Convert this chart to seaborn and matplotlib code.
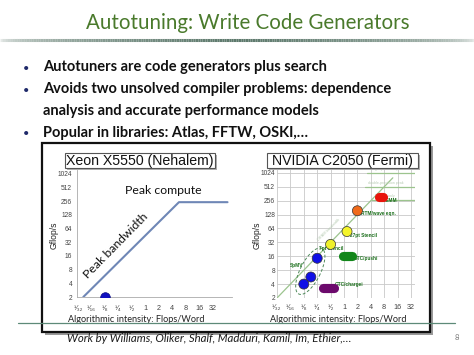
import numpy as np
import pandas as pd
import matplotlib
matplotlib.use("Agg")
import matplotlib.pyplot as plt
import seaborn as sns
from matplotlib.patches import Rectangle
from matplotlib.collections import LineCollection

# ---------------- data ----------------
slide_title = "Autotuning: Write Code Generators"
bullets = ["Autotuners are code generators plus search",
           "Avoids two unsolved compiler problems: dependence\nanalysis and accurate performance models",
           "Popular in libraries: Atlas, FFTW, OSKI,\u2026"]
footer = "Work by Williams, Oliker, Shalf, Madduri, Kamil, Im, Ethier,\u2026"
page_no = "8"

xtick_vals = [2.0 ** k for k in range(-5, 6)]
xtick_labels = ["\u00b9\u2044\u2083\u2082", "\u00b9\u2044\u2081\u2086", "\u00b9\u2044\u2088",
                "\u00b9\u2044\u2084", "\u00b9\u2044\u2082", "1", "2", "4", "8", "16", "32"]
ytick_vals = [2, 4, 8, 16, 32, 64, 128, 256, 512, 1024]
ytick_labels = [str(v) for v in ytick_vals]
xlabel = "Algorithmic intensity: Flops/Word"
ylabel = "Gflop/s"

# left panel (Nehalem)
left_title = "Xeon X5550 (Nehalem)"
left_roof_x = [0.041, 5.6, 68.0]
left_roof_y = [2.0, 245.0, 245.0]
left_point_x = [0.125]
left_point_y = [2.0]

# right panel (Fermi)
right_title = "NVIDIA C2050 (Fermi)"
right_bw_x = [1 / 32, 12.5]
right_bw_y = [2.0, 800.0]
ceil_names = ["single-precision peak", "double-precision peak", "DP add-only"]
ceil_y = [1030.0, 512.0, 262.0]
ceil_x0 = [3.3, 3.0, 4.3]
ceil_x1 = [40.0, 40.0, 40.0]

circle_names = ["RTM/wave eqn.", "27pt Stencil", "7pt Stencil", "SpMV a", "SpMV b", "SpMV c"]
circle_x = [2.0, 1.17, 0.5, 0.25, 0.18, 0.125]
circle_y = [155.0, 55.0, 29.0, 14.5, 5.7, 4.0]
circle_colors = ["#f06a1a", "#f4f42a", "#eef02a", "#1010e6", "#1010e6", "#1010e6"]

pill_names = ["DGEMM", "GTC/pushi", "GTC/chargei"]
pill_x0 = [6.0, 0.93, 0.33]
pill_x1 = [7.5, 1.53, 0.59]
pill_y = [305.0, 16.5, 3.3]
pill_colors = ["#e8140c", "#12861a", "#6c0a6c"]

W, H = 474, 355


def fx(px):
    return px / W


def fy(py):
    return 1 - py / H


sns.set_theme(style="white")
plt.rcParams["font.family"] = ["Liberation Sans", "DejaVu Sans"]

fig = plt.figure(figsize=(W / 100, H / 100), dpi=100)
fig.patch.set_facecolor("white")

# ---------- slide decorations ----------
fig.text(fx(248), fy(23), slide_title, ha="center", va="center",
         fontsize=14.8, color="#4a7a2c", family=["Lato", "DejaVu Sans"])

# gradient title rule
xs = np.linspace(0, 1, 200)
segs = [[(xs[i], fy(40)), (xs[i + 1], fy(40))] for i in range(len(xs) - 1)]
alph = np.clip(1 - np.abs((xs[:-1] + xs[1:]) / 2 - 0.5) * 2, 0, 1) ** 0.35
cols = [(0.36, 0.47, 0.42, a) for a in alph]
fig.add_artist(LineCollection(segs, colors=cols, linewidths=2.2, transform=fig.transFigure))

bullet_y = [68, 90, 134]
for by, txt in zip(bullet_y, bullets):
    fig.text(fx(26), fy(by), "\u2022", ha="center", va="center", fontsize=8,
             color="#1f2a6a", family=["Lato", "DejaVu Sans"])
    fig.text(fx(43), fy(by - 7.5), txt, ha="left", va="top", fontsize=10.5,
             fontweight="bold", color="#111111", family=["Lato", "DejaVu Sans"],
             linespacing=1.65)

# outer framed box with shadow
fig.add_artist(Rectangle((fx(45), fy(335)), fx(388), fy(146) - fy(335),
                         transform=fig.transFigure, facecolor="#9a9a9a",
                         edgecolor="none", zorder=0.5))
fig.add_artist(Rectangle((fx(42), fy(332)), fx(388), fy(143) - fy(332),
                         transform=fig.transFigure, facecolor="white",
                         edgecolor="#111111", linewidth=1.6, zorder=0.6))

# footer line
fig.add_artist(plt.Line2D([fx(18), fx(455)], [fy(323), fy(323)],
                          transform=fig.transFigure, color="#5d8a78",
                          linewidth=0.9, zorder=5))
fig.text(fx(67), fy(338), footer, ha="left", va="center", fontsize=8.2,
         style="italic", color="#1a1a1a", family=["Lato", "DejaVu Sans"], zorder=6)
fig.text(fx(457), fy(338), page_no, ha="center", va="center", fontsize=5.5,
         color="#777777", family=["Lato", "DejaVu Sans"])


def make_axes(L, R, T, B, xlo, xhi, ylo, yhi):
    ax = fig.add_axes([fx(L), fy(B), fx(R - L), fy(T) - fy(B)], zorder=2)
    ax.set_xscale("log", base=2)
    ax.set_yscale("log", base=2)
    ax.set_xlim(xlo, xhi)
    ax.set_ylim(ylo, yhi)
    ax.set_xticks(xtick_vals)
    ax.set_xticklabels(xtick_labels)
    ax.set_yticks(ytick_vals)
    ax.set_yticklabels(ytick_labels)
    ax.minorticks_off()
    ax.tick_params(axis="both", labelsize=4.8, colors="#444444", length=2,
                   width=0.5, pad=1.5)
    ax.tick_params(axis="x", pad=4, labelsize=5.2)
    for lab in ax.get_xticklabels() + ax.get_yticklabels():
        lab.set_family(["Liberation Sans", "DejaVu Sans"])
    ax.set_facecolor("none")
    return ax


def title_box(cx, cy, w, h, text):
    x0, y0 = cx - w / 2, cy - h / 2
    fig.add_artist(Rectangle((fx(x0 + 2), fy(y0 + h + 2)), fx(w), fy(y0) - fy(y0 + h),
                             transform=fig.transFigure, facecolor="#b0b0b0",
                             edgecolor="none", zorder=3))
    fig.add_artist(Rectangle((fx(x0), fy(y0 + h)), fx(w), fy(y0) - fy(y0 + h),
                             transform=fig.transFigure, facecolor="white",
                             edgecolor="#555555", linewidth=0.8, zorder=3.1))
    fig.text(fx(cx), fy(cy + 0.5), text, ha="center", va="center", fontsize=10.2,
             color="#111111", zorder=3.2, family=["Liberation Sans", "DejaVu Sans"])


# ---------------- left panel ----------------
axL = make_axes(77, 232, 170, 297, 2 ** -5.075, 2 ** 6.42, 2.0, 2 ** 10.29)
for s in ["top", "right"]:
    axL.spines[s].set_visible(False)
for s in ["left", "bottom"]:
    axL.spines[s].set_color("#aaaaaa")
    axL.spines[s].set_linewidth(0.6)
dfL = pd.DataFrame({"x": left_roof_x, "y": left_roof_y})
sns.lineplot(data=dfL, x="x", y="y", ax=axL, color="#6f87b6", linewidth=1.5, sort=False)
sns.scatterplot(x=left_point_x, y=left_point_y, ax=axL, color="#1010c0", s=48,
                edgecolor="#0a0a80", linewidth=0.5, zorder=4)
axL.set_xlabel("")
axL.set_ylabel("")
fig.text(fx(136), fy(319), xlabel, ha="center", va="center", fontsize=6.6,
         color="#222222", family=["Lato", "DejaVu Sans"])
fig.text(fx(54), fy(235), ylabel, ha="center", va="center", fontsize=6.2,
         rotation=90, color="#222222")
fig.text(fx(163), fy(191), "Peak compute", ha="center", va="center", fontsize=8.8,
         color="#111111", family=["Lato", "DejaVu Sans"])
fig.text(fx(116), fy(246), "Peak bandwidth", ha="center", va="center", fontsize=8.8,
         rotation=45.5, color="#111111", family=["Lato", "DejaVu Sans"])
title_box(140, 160.5, 150, 15, left_title)

# ---------------- right panel ----------------
axR = make_axes(277, 415, 169, 298, 2 ** -5.0, 2 ** 5.3, 2.0, 2 ** 10.28)
axR.grid(True, which="major", color="#c9c9c9", linewidth=0.6)
for s in axR.spines.values():
    s.set_visible(False)
axR.tick_params(axis="both", length=0)

dfBW = pd.DataFrame({"x": right_bw_x, "y": right_bw_y})
sns.lineplot(data=dfBW, x="x", y="y", ax=axR, color="#9cc48e", linewidth=0.9)
for nm, yv, a, b in zip(ceil_names, ceil_y, ceil_x0, ceil_x1):
    sns.lineplot(x=[a, b], y=[yv, yv], ax=axR, color="#9cc48e", linewidth=0.9)
    axR.text(a * 1.15, yv * 1.1, nm, fontsize=2.6, color="#b8ccb4", ha="left", va="bottom")
axR.text(0.47, 60, "DRAM bandwidth", fontsize=2.8, color="#b8ccb4", rotation=45,
         ha="center", va="center")

# dashed ellipse around SpMV points (drawn in log space)
t = np.linspace(0, 2 * np.pi, 200)
cxl, cyl = np.log2(0.175), np.log2(7.6)
a_ax, b_ax, ang = 0.75, 1.85, np.deg2rad(-28)
ex = cxl + a_ax * np.cos(t) * np.cos(ang) - b_ax * np.sin(t) * np.sin(ang)
ey = cyl + a_ax * np.cos(t) * np.sin(ang) + b_ax * np.sin(t) * np.cos(ang)
axR.plot(2 ** ex, 2 ** ey, color="#4f8a5a", linewidth=0.7, linestyle=(0, (3, 2)))

for x0, x1, yv, c in zip(pill_x0, pill_x1, pill_y, pill_colors):
    sns.lineplot(x=[x0, x1], y=[yv, yv], ax=axR, color=c, linewidth=6.6,
                 solid_capstyle="round", zorder=4)

dfC = pd.DataFrame({"x": circle_x, "y": circle_y, "name": circle_names})
sns.scatterplot(data=dfC, x="x", y="y", hue="name", palette=circle_colors, ax=axR,
                s=52, edgecolor="#333333", linewidth=0.5, legend=False, zorder=5)
axR.set_xlabel("")
axR.set_ylabel("")

lab_kw = dict(fontsize=3.4, color="#1a6e1a", fontweight="bold", ha="left", va="center")
axR.text(6.0, 255, "DGEMM", **lab_kw)
axR.text(2.35, 136, "RTM/wave eqn.", **lab_kw)
axR.text(1.38, 45, "27pt Stencil", **lab_kw)
axR.text(0.27, 23.5, "7pt Stencil", **lab_kw)
axR.text(1.62, 14.0, "GTC/pushi", **lab_kw)
axR.text(0.062, 10.2, "SpMV", **lab_kw)
axR.text(0.62, 4.0, "GTC/chargei", **lab_kw)

fig.text(fx(338), fy(319), xlabel, ha="center", va="center", fontsize=6.6,
         color="#222222", family=["Lato", "DejaVu Sans"])
fig.text(fx(257), fy(235), ylabel, ha="center", va="center", fontsize=6.2,
         rotation=90, color="#222222")
title_box(342, 160.5, 151, 15, right_title)

fig.savefig("out.png", dpi=100)
